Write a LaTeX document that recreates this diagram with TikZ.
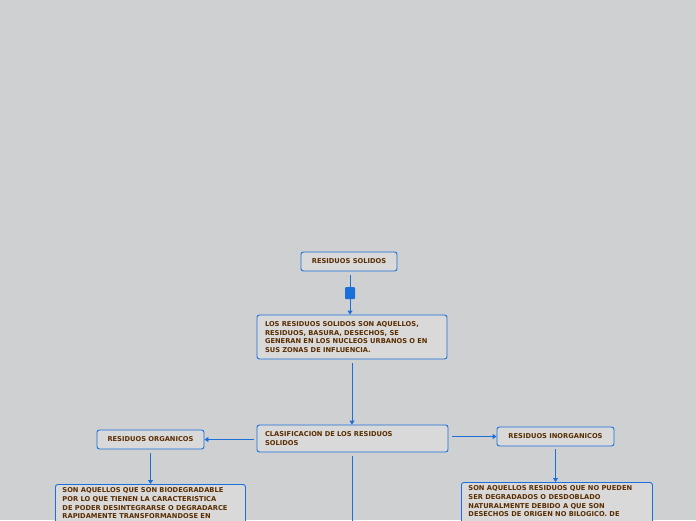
\documentclass[tikz,border=0pt]{standalone}
\usepackage{fontspec}
\setmainfont{DejaVu Sans}
\usetikzlibrary{arrows.meta}
\definecolor{bg}{HTML}{CFD0D2}
\definecolor{bx}{HTML}{D9D9DA}
\definecolor{bl}{HTML}{1A6FD8}
\definecolor{tx}{HTML}{5A2D00}
\begin{document}
\begin{tikzpicture}[x=1pt,y=-1pt,
  box/.style={draw=bl,fill=bx,rounded corners=2.5pt,line width=0.9pt,text=tx,font=\bfseries\fontsize{6.7}{8.8}\selectfont,align=left,inner sep=0pt},
  con/.style={draw=bl,line width=0.9pt},
  arr/.style={con,-{Triangle[width=5pt,length=4pt]}}]
\useasboundingbox (0,0) rectangle (696,520);
\fill[bg] (0,0) rectangle (696,520);
\clip (0,0) rectangle (696,520);
\node[box,minimum width=96pt,minimum height=19pt] (rs) at (349,261.5) {RESIDUOS SOLIDOS};
\node[fill=bl,rounded corners=1pt,minimum width=10pt,minimum height=12pt,inner sep=0pt] (sq) at (350,293) {};
\node[box,minimum width=190pt,minimum height=44pt,text width=174pt] (d) at (352,337) {LOS RESIDUOS SOLIDOS SON AQUELLOS,\\RESIDUOS, BASURA, DESECHOS, SE\\GENERAN EN LOS NUCLEOS URBANOS O EN\\SUS ZONAS DE INFLUENCIA.};
\node[box,minimum width=191pt,minimum height=27pt,text width=175pt] (c) at (352.5,438.5) {CLASIFICACION DE LOS RESIDUOS\\SOLIDOS};
\node[box,minimum width=107pt,minimum height=19pt] (o) at (150.5,439.5) {RESIDUOS ORGANICOS};
\node[box,minimum width=117pt,minimum height=19pt] (i) at (555.5,436.5) {RESIDUOS INORGANICOS};
\node[box,anchor=north west,inner sep=0pt] (od) at (55,484) {\parbox[t][70pt]{190pt}{\hspace*{7pt}\parbox[t]{182pt}{\vspace*{3pt}SON AQUELLOS QUE SON BIODEGRADABLE\\POR LO QUE TIENEN LA CARACTERISTICA\\DE PODER DESINTEGRARSE O DEGRADARCE\\RAPIDAMENTE TRANSFORMANDOSE EN}}};
\node[box,anchor=north west,inner sep=0pt] (id) at (461,482) {\parbox[t][70pt]{191pt}{\hspace*{7pt}\parbox[t]{182pt}{\vspace*{3pt}SON AQUELLOS RESIDUOS QUE NO PUEDEN\\SER DEGRADADOS O DESDOBLADO\\NATURALMENTE DEBIDO A QUE SON\\DESECHOS DE ORIGEN NO BILOGICO. DE}}};
\coordinate (cb) at (352,530);
\draw[con] ([yshift=-4pt]rs.south-|sq.north) -- (sq.north);
\draw[arr] (sq.south) -- (d.north-|sq.south);
\draw[arr] ([yshift=-4pt]d.south) -- (c.north-|d.south);
\draw[arr] ([xshift=-3pt]c.west|-o.east) -- (o.east);
\draw[arr] ([xshift=4pt]c.east|-i.west) -- (i.west);
\draw[arr] ([yshift=-4pt]o.south) -- (od.north-|o.south);
\draw[arr] ([yshift=-3pt]i.south) -- (id.north-|i.south);
\draw[con] ([yshift=-4pt]c.south-|cb) -- (cb);
\end{tikzpicture}
\end{document}
